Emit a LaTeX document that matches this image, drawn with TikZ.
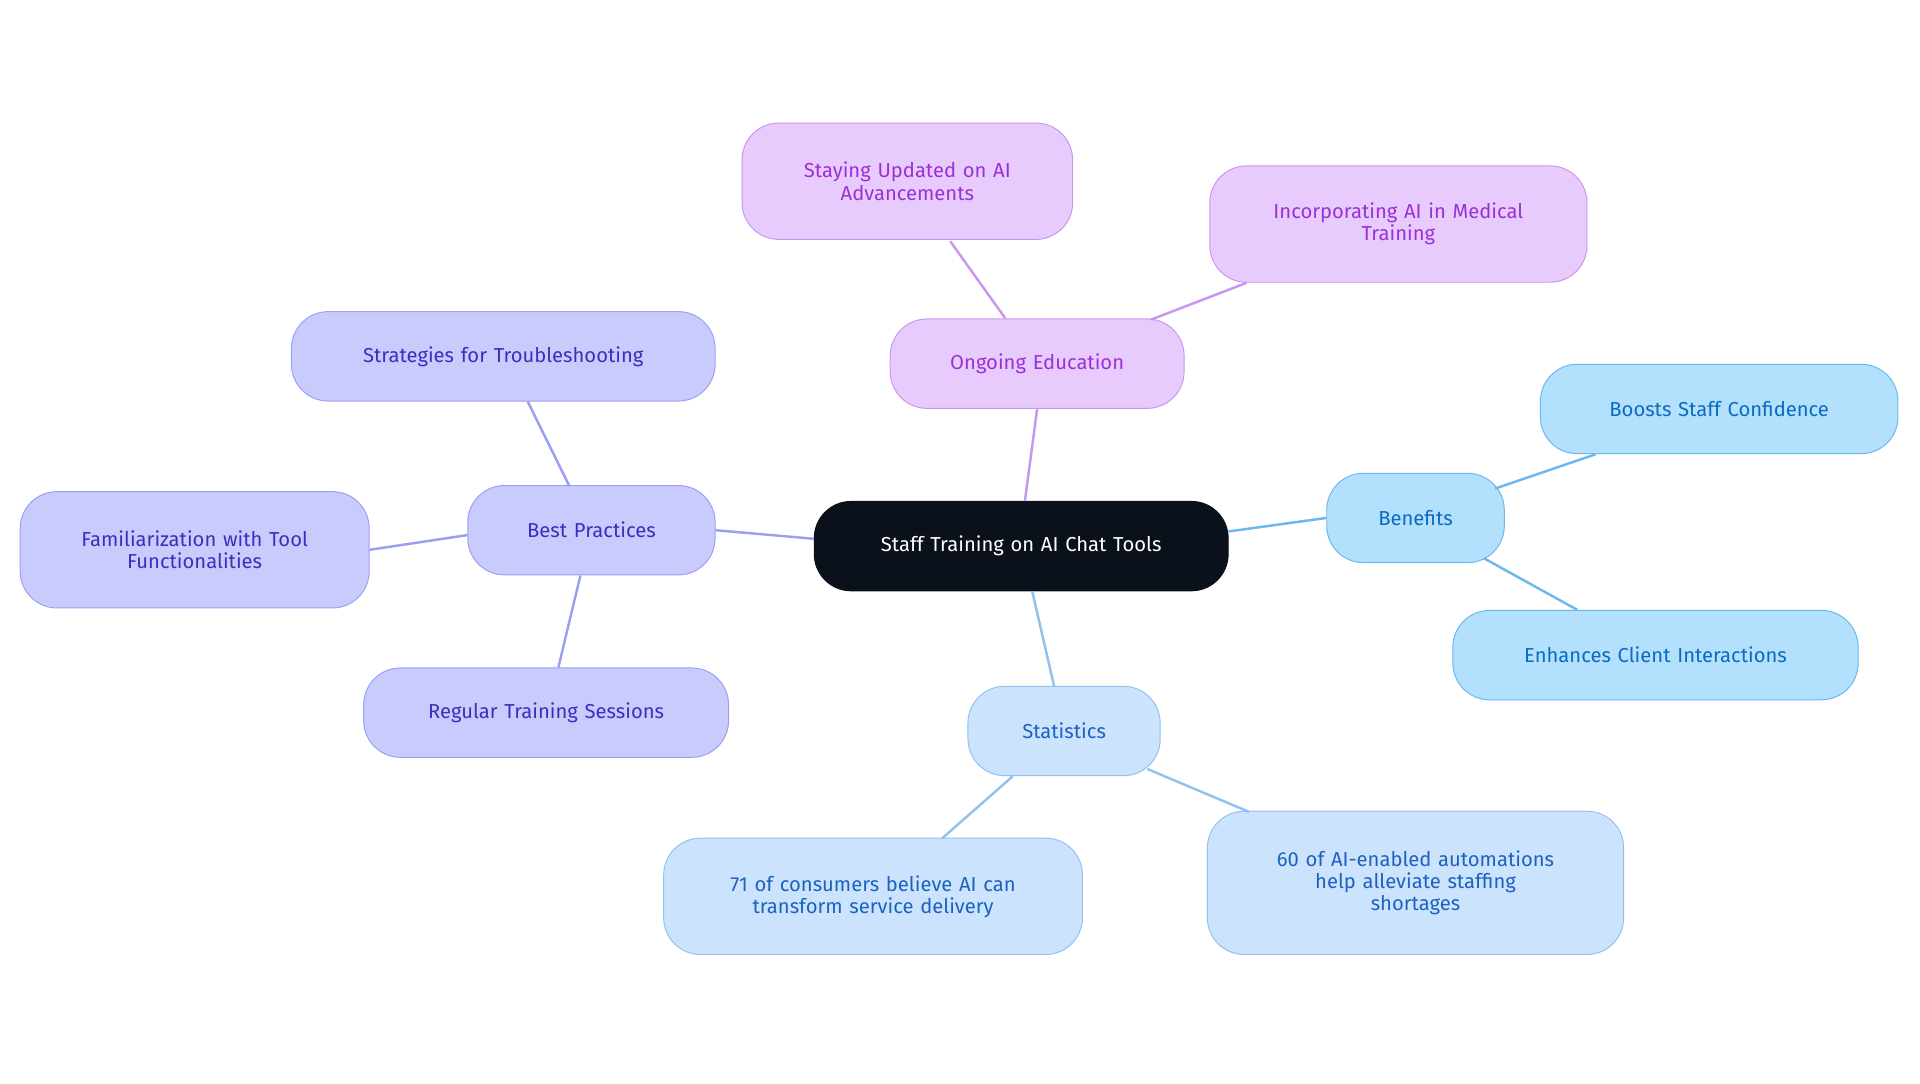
\documentclass[tikz,border=0pt]{standalone}
\usepackage{fontspec}
\setmainfont{Fira Sans}
\definecolor{cdark}{HTML}{0B111B}
\definecolor{pf}{HTML}{E8CBFD}\definecolor{pd}{HTML}{C896F0}\definecolor{pt}{HTML}{9B30D9}
\definecolor{bf}{HTML}{CACBFD}\definecolor{bd}{HTML}{9C9EF0}\definecolor{bt}{HTML}{3730C0}
\definecolor{nf}{HTML}{B3E0FD}\definecolor{nd}{HTML}{6AB8EE}\definecolor{nt}{HTML}{0B6BC0}
\definecolor{sf}{HTML}{CCE3FD}\definecolor{sd}{HTML}{92C1F0}\definecolor{st}{HTML}{1C62C0}
\begin{document}
\begin{tikzpicture}[x=1pt,y=-1pt,
 box/.style={rounded corners=30pt,line width=0.8pt,align=center,inner sep=0pt,font=\fontsize{16.5}{18}\selectfont},
 pu/.style={box,fill=pf,draw=pd,text=pt},
 bl/.style={box,fill=bf,draw=bd,text=bt},
 nb/.style={box,fill=nf,draw=nd,text=nt},
 sb/.style={box,fill=sf,draw=sd,text=st},
 ln/.style={line width=2pt}]
\useasboundingbox (0,0) rectangle (1568,885);
\def\bx#1#2#3#4#5#6{\node[#1,minimum width=#4pt,minimum height=#5pt,text width=#4pt-30pt] (#2) at #3 {#6};}
\bx{box,fill=cdark,draw=cdark,text=white}{c}{(834,446)}{338}{73}{Staff Training on AI Chat Tools}
\bx{pu}{oe}{(847,297)}{240}{73}{Ongoing Education}
\bx{pu}{su}{(741,148)}{270}{95}{Staying Updated on AI\\Advancements}
\bx{pu}{inc}{(1142,183)}{308}{95}{Incorporating AI in Medical\\Training}
\bx{bl}{bp}{(483,433)}{202}{73}{Best Practices}
\bx{bl}{str}{(411,291)}{346}{73}{Strategies for Troubleshooting}
\bx{bl}{fam}{(159,449)}{285}{95}{Familiarization with Tool\\Functionalities}
\bx{bl}{reg}{(446,582)}{298}{73}{Regular Training Sessions}
\bx{nb}{ben}{(1156,423)}{145}{73}{Benefits}
\bx{nb}{boo}{(1404,334)}{292}{73}{Boosts Staff Confidence}
\bx{nb}{enh}{(1352,535)}{331}{73}{Enhances Client Interactions}
\bx{sb}{sta}{(869,597)}{157}{73}{Statistics}
\bx{sb}{s71}{(713,732)}{342}{95}{71 of consumers believe AI can\\transform service delivery}
\bx{sb}{s60}{(1156,721)}{340}{117}{60 of AI-enabled automations\\help alleviate staffing\\shortages}
\begin{scope}[on background layer/.try]
\end{scope}
\draw[ln,draw=pd] (c.north)++(3,0) -- (oe.south);
\draw[ln,draw=pd] (oe) ++(-26,-37) -- (776,197);
\draw[ln,draw=pd] (940,261) -- (1018,231);
\draw[ln,draw=bd] (c.west) ++(0,-6) -- (bp.east);
\draw[ln,draw=bd] (465,397) -- (431,328);
\draw[ln,draw=bd] (bp.west) ++(0,4) -- (fam.east);
\draw[ln,draw=bd] (474,470) -- (456,545);
\draw[ln,draw=nd] (c.east) ++(0,-12) -- (ben.west);
\draw[ln,draw=nd] (1221,399) -- (1303,371);
\draw[ln,draw=nd] (1212,456) -- (1288,498);
\draw[ln,draw=sd] (843,483) -- (861,561);
\draw[ln,draw=sd] (827,634) -- (769,685);
\draw[ln,draw=sd] (937,628) -- (1020,663);
\end{tikzpicture}
\end{document}
